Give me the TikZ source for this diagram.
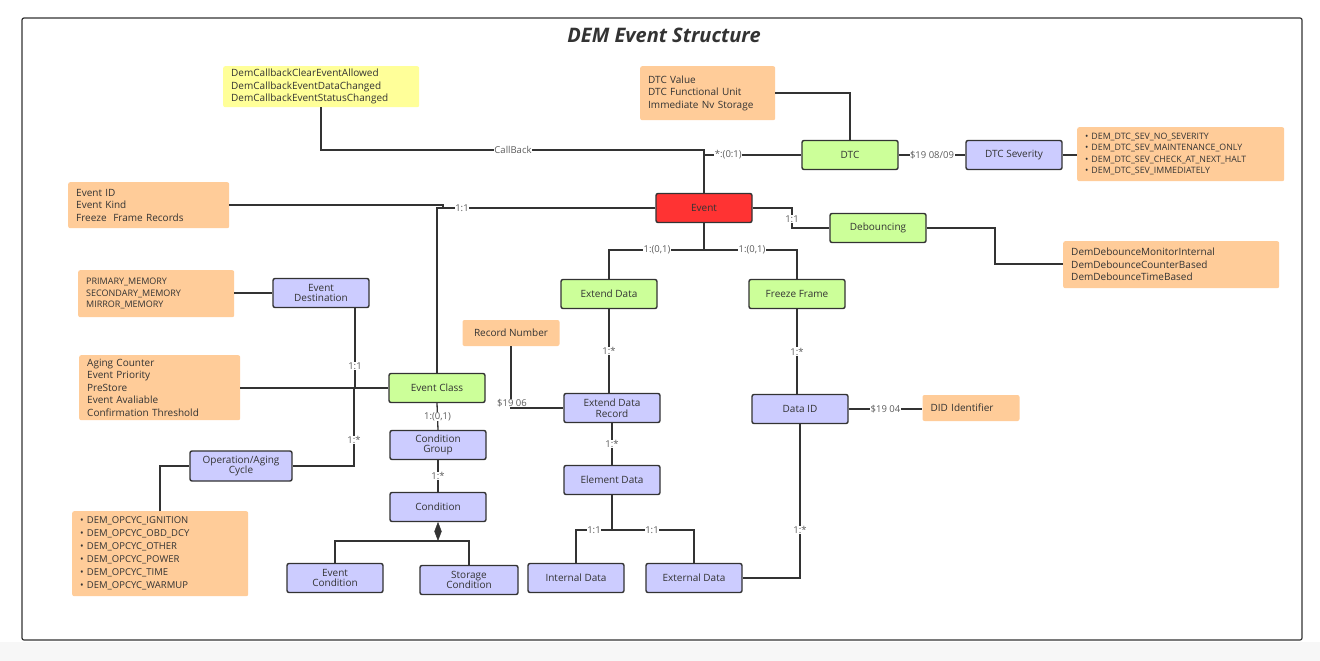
\documentclass[tikz,border=0pt]{standalone}
\usepackage{fontspec}
\setmainfont{Open Sans}
\usetikzlibrary{shapes.geometric}
\definecolor{cgreen}{HTML}{CCFF99}
\definecolor{cpurple}{HTML}{CCCCFF}
\definecolor{corange}{HTML}{FFCC99}
\definecolor{cyellow}{HTML}{FFFF99}
\definecolor{cred}{HTML}{FF3333}
\definecolor{cline}{HTML}{333333}
\definecolor{ctext}{HTML}{333333}
\begin{document}
\begin{tikzpicture}[x=1pt,y=-1pt,
  every node/.style={font=\fontsize{10}{12}\selectfont, text=ctext},
  ent/.style={draw=cline, line width=1.4pt, rounded corners=2pt, minimum width=96pt, minimum height=29pt, align=center, inner sep=1pt, font=\fontsize{10}{10.5}\selectfont},
  green/.style={ent, fill=cgreen},
  purple/.style={ent, fill=cpurple},
  note/.style={fill=corange, rounded corners=2pt, align=left, inner xsep=8pt, inner ysep=3pt, anchor=north west, font=\fontsize{10}{12.5}\selectfont},
  conn/.style={draw=cline, line width=1.3pt},
  lab/.style={fill=white, inner sep=0.5pt, font=\fontsize{9.5}{10}\selectfont, text=ctext!80}
]
\useasboundingbox (0,0) rectangle (1320,661);
\fill[white] (0,0) rectangle (1320,661);
\fill[gray!6] (0,642) rectangle (1320,661);
\draw[cline, line width=1.2pt, rounded corners=2pt] (22,18) rectangle (1302,640);
\node[font=\fontsize{20}{24}\selectfont\bfseries\itshape, text=cline] (title) at (664,35) {DEM Event Structure};

% notes
\node[note, fill=cyellow, text width=180pt, minimum height=41pt] (cb) at (223,66) {DemCallbackClearEventAllowed\\DemCallbackEventDataChanged\\DemCallbackEventStatusChanged};
\node[note, text width=119pt, minimum height=54pt] (dtcn) at (640,66) {DTC Value\\DTC Functional Unit\\Immediate Nv Storage};
\node[note, text width=191pt, minimum height=54pt, font=\fontsize{8.8}{11.5}\selectfont] (sevl) at (1077,127) {• DEM\_DTC\_SEV\_NO\_SEVERITY\\• DEM\_DTC\_SEV\_MAINTENANCE\_ONLY\\• DEM\_DTC\_SEV\_CHECK\_AT\_NEXT\_HALT\\• DEM\_DTC\_SEV\_IMMEDIATELY};
\node[note, text width=200pt, minimum height=47pt] (debl) at (1063,241) {DemDebounceMonitorInternal\\DemDebounceCounterBased\\DemDebounceTimeBased};
\node[note, text width=145pt, minimum height=46pt] (eid) at (68,182) {Event ID\\Event Kind\\Freeze\ \ Frame Records};
\node[note, text width=140pt, minimum height=47pt, font=\fontsize{9}{11.5}\selectfont] (mem) at (78,270) {PRIMARY\_MEMORY\\SECONDARY\_MEMORY\\MIRROR\_MEMORY};
\node[note, text width=145pt, minimum height=65pt, font=\fontsize{10}{12.6}\selectfont] (aging) at (79,355) {Aging Counter\\Event Priority\\PreStore\\Event Avaliable\\Confirmation Threshold};
\node[note, text width=160pt, minimum height=85pt, font=\fontsize{9.5}{13}\selectfont] (opl) at (72,511) {• DEM\_OPCYC\_IGNITION\\• DEM\_OPCYC\_OBD\_DCY\\• DEM\_OPCYC\_OTHER\\• DEM\_OPCYC\_POWER\\• DEM\_OPCYC\_TIME\\• DEM\_OPCYC\_WARMUP};
\node[note, anchor=center, minimum width=97pt, minimum height=26pt] (rn) at (511,333) {Record Number};
\node[note, anchor=center, minimum width=97pt, minimum height=26pt, align=left, text width=81pt] (did) at (971,408) {DID Identifier};

% entities
\node[green] (dtc) at (850,155) {DTC};
\node[purple] (sev) at (1014,155) {DTC Severity};
\node[ent, fill=cred] (ev) at (704,208) {Event};
\node[green] (deb) at (878,228) {Debouncing};
\node[purple] (edest) at (321,293) {Event\\Destination};
\node[green] (exd) at (609,294) {Extend Data};
\node[green] (ff) at (797,294) {Freeze Frame};
\node[green] (ecl) at (437,388) {Event Class};
\node[purple] (edr) at (612,408) {Extend Data\\Record};
\node[purple] (dataid) at (800,409) {Data ID};
\node[purple] (cg) at (438,445) {Condition\\Group};
\node[purple, minimum width=102pt, minimum height=30pt] (op) at (241,466) {Operation/Aging\\Cycle};
\node[purple] (eld) at (612,480) {Element Data};
\node[purple] (cond) at (438,507) {Condition};
\node[purple] (econd) at (335,578) {Event\\Condition};
\node[purple, minimum width=98pt] (scond) at (469,580) {Storage\\Condition};
\node[purple] (idata) at (576,578) {Internal Data};
\node[purple] (xdata) at (694,578) {External Data};

% connectors
\draw[conn] (cb.south -| 321,0) |- (704,150) -- (ev.north);
\node[lab] at (513,150) {CallBack};
\draw[conn] (704,155) -- (dtc.west) node[lab, pos=0.25] {*:(0:1)};
\draw[conn] (dtcn.east |- 0,93) -| (dtc.north);
\draw[conn] (dtc.east) -- (sev.west) node[lab, midway] {\$19 08/09};
\draw[conn] (sev.east) -- (sevl.west |- sev.east);
\draw[conn] (ev.east) -| (792,228) -- (deb.west);
\node[lab] at (792,219) {1:1};
\draw[conn] (deb.east) -| (995,264) -- (debl.west |- 0,264);
\draw[conn] (eid.east |- 0,205) -- (443,205) -- (443,208);
\draw[conn] (ev.west) -- (437,208) -- (ecl.north);
\node[lab] at (462,208) {1:1};
\draw[conn] (ev.south) -- (704,250);
\draw[conn] (exd.north) |- (ff.north |- 0,250) -- (ff.north);
\node[lab] at (657,250) {1:(0,1)};
\node[lab] at (752,250) {1:(0,1)};
\draw[conn] (exd.south) -- (exd.south |- edr.north) node[lab, midway] {1:*};
\draw[conn] (ff.south) -- (ff.south |- dataid.north) node[lab, midway] {1:*};
\draw[conn] (rn.south) |- (edr.west);
\node[lab] at (512,403) {\$19 06};
\draw[conn] (dataid.east) -- (did.west |- dataid.east) node[lab, midway] {\$19 04};
\draw[conn] (edr.south) -- (eld.north) node[lab, midway] {1:*};
\draw[conn] (eld.south) -- (612,530);
\draw[conn] (idata.north) |- (xdata.north |- 0,530) -- (xdata.north);
\node[lab] at (594,530) {1:1};
\node[lab] at (652,530) {1:1};
\draw[conn] (dataid.south) |- (xdata.east);
\node[lab] at (800,530) {1:*};
\draw[conn] (mem.east |- edest.west) -- (edest.west);
\draw[conn] (edest.south -| 355,0) -- (355,388);
\node[lab] at (355,366) {1:1};
\draw[conn] (aging.east |- ecl.west) -- (ecl.west);
\draw[conn] (op.east) -| (354,388);
\node[lab] at (354,440) {1:*};
\draw[conn] (opl.north -| 160,0) |- (op.west);
\draw[conn] (ecl.south) -- (cg.north) node[lab, midway] {1:(0,1)};
\draw[conn] (cg.south) -- (cond.north) node[lab, midway] {1:*};
\node[diamond, fill=cline, draw=cline, minimum width=7pt, minimum height=18pt, inner sep=0pt, anchor=north] (dia) at (cond.south) {};
\draw[conn] (dia.south) -- (438,541) -| (econd.north);
\draw[conn] (438,541) -| (scond.north);
\end{tikzpicture}
\end{document}
